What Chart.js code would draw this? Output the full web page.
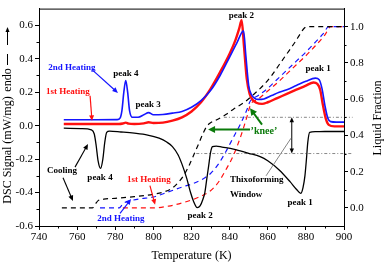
<!DOCTYPE html>
<html>
<head>
<meta charset="utf-8">
<script src="https://cdn.jsdelivr.net/npm/chart.js@4.4.0/dist/chart.umd.min.js"></script>
<style>
  html, body { margin: 0; padding: 0; background: #fff; }
  #wrap { width: 385px; height: 264px; }
</style>
</head>
<body>
<div id="wrap"><canvas id="dsc" width="385" height="264"></canvas></div>
<script>
// tick labels
var tempTicks = [740, 760, 780, 800, 820, 840, 860, 880, 900];
var dscTicks = [-0.6, -0.4, -0.2, 0.0, 0.2, 0.4, 0.6];
var lfTicks = [0.0, 0.2, 0.4, 0.6, 0.8, 1.0];

// DSC signal, 1st heating (red)
var heat1T = [753, 770, 782, 784, 785.5, 787, 790, 795, 797.5, 800, 805, 810, 815, 820, 825, 830, 835, 840, 843, 845,
              846.3, 847.5, 849, 850.5, 852, 854, 857, 860, 865, 870, 875, 880, 884, 886, 887.5, 889, 890.5, 892, 895, 900];
var heat1Dsc = [0.010, 0.010, 0.010, 0.013, 0.018, 0.012, 0.010, 0.014, 0.020, 0.016, 0.018, 0.030, 0.050, 0.085, 0.14, 0.22, 0.32, 0.43, 0.51, 0.58,
                0.63, 0.48, 0.28, 0.19, 0.155, 0.137, 0.13, 0.14, 0.165, 0.19, 0.215, 0.24, 0.258, 0.25, 0.215, 0.12, 0.04, 0.005, -0.004, -0.004];

// DSC signal, 2nd heating (blue)
var heat2T = [753, 770, 781, 782.5, 783.5, 784.5, 785.5, 786.5, 787.5, 789, 792, 795, 797.5, 800, 805, 810, 815, 820, 825, 830,
              835, 840, 844, 847.3, 848.5, 850, 851.5, 853, 855, 858, 862, 866, 870, 875, 880, 885, 887, 888.5, 890, 891.5, 893, 896, 900];
var heat2Dsc = [0.035, 0.035, 0.036, 0.045, 0.09, 0.20, 0.27, 0.20, 0.09, 0.05, 0.05, 0.065, 0.078, 0.065, 0.067, 0.075, 0.085, 0.11, 0.15, 0.21,
                0.30, 0.41, 0.50, 0.567, 0.42, 0.24, 0.185, 0.165, 0.157, 0.16, 0.18, 0.2, 0.215, 0.24, 0.265, 0.284, 0.275, 0.22, 0.12, 0.045, 0.024, 0.021, 0.021];

// DSC signal, cooling (black)
var coolT = [753, 762, 767.5, 769, 770, 771, 772.3, 773.5, 774.5, 775.5, 777, 783, 790, 797, 803, 807, 810, 813, 815, 817.5,
             819.5, 821, 823, 824.5, 826, 827, 828, 829, 830, 831, 833, 836, 842, 850, 856, 860, 866, 871.7, 875, 877.3,
             878.5, 879.5, 880.3, 881, 882, 885, 890, 900];
var coolDsc = [-0.015, -0.018, -0.025, -0.05, -0.12, -0.21, -0.255, -0.20, -0.10, -0.04, -0.033, -0.038, -0.045, -0.056, -0.075, -0.098, -0.125, -0.175, -0.23, -0.315,
               -0.40, -0.45, -0.49, -0.48, -0.44, -0.40, -0.32, -0.24, -0.16, -0.125, -0.122, -0.128, -0.14, -0.165, -0.185, -0.21, -0.265, -0.335, -0.38, -0.405,
               -0.37, -0.30, -0.20, -0.10, -0.04, -0.036, -0.035, -0.035];

// liquid fraction curves (right axis)
var coolLfT = [752, 768, 769.5, 771, 774, 780, 790, 800, 806, 810, 813, 816, 819, 821.5, 824, 826, 828, 830, 833, 838,
               842, 848, 853, 858, 862, 866, 870, 874, 877, 879, 880.5, 900];
var coolLf = [0, 0, 0.02, 0.04, 0.048, 0.053, 0.062, 0.075, 0.09, 0.11, 0.14, 0.18, 0.24, 0.30, 0.36, 0.41, 0.45, 0.47, 0.485, 0.515,
              0.545, 0.585, 0.63, 0.68, 0.73, 0.79, 0.85, 0.91, 0.96, 0.99, 1.0, 1.0];
var heat1LfT = [784, 800, 808, 816, 824, 830, 834, 838, 842, 846, 849, 851, 855, 860, 865, 870, 875, 880, 885, 890, 893, 900];
var heat1Lf = [0, 0, 0.01, 0.03, 0.06, 0.095, 0.14, 0.21, 0.29, 0.40, 0.50, 0.57, 0.60, 0.645, 0.69, 0.74, 0.79, 0.84, 0.895, 0.955, 1.0, 1.0];
var heat2LfT = [772, 782, 783.5, 785, 788, 793, 800, 807, 815, 821, 826, 830, 834, 838, 842, 846, 849, 850.7, 855, 860,
                865, 870, 875, 880, 885, 889, 892, 900];
var heat2Lf = [0, 0, 0.015, 0.03, 0.04, 0.05, 0.06, 0.085, 0.115, 0.135, 0.16, 0.19, 0.24, 0.31, 0.39, 0.47, 0.54, 0.587, 0.62, 0.66,
               0.71, 0.76, 0.81, 0.86, 0.915, 0.96, 1.0, 1.0];

// thixoforming window (liquid fraction limits)
var windowLf = [0.3, 0.5];
var windowStartT = [822.5, 837];
var windowEndT = 904.5;
var windowArrowT = 872.6;

// text labels, in data units of the left axis
var labels = [
  {t: 'peak 4', x: 785.6, y: 0.312, c: '#000'},
  {t: 'peak 3', x: 797.2, y: 0.127, c: '#000'},
  {t: 'peak 2', x: 846.2, y: 0.658, c: '#000'},
  {t: 'peak 1', x: 886.4, y: 0.34, c: '#000'},
  {t: '2nd Heating', x: 757.3, y: 0.346, c: '#1515ff'},
  {t: '1st Heating', x: 755.2, y: 0.202, c: '#ff1010'},
  {t: 'Cooling', x: 752.1, y: -0.271, c: '#000'},
  {t: 'peak 4', x: 772, y: -0.312, c: '#000'},
  {t: '1st Heating', x: 797.7, y: -0.323, c: '#ff1010'},
  {t: '2nd Heating', x: 783, y: -0.554, c: '#1515ff'},
  {t: 'peak 2', x: 824.5, y: -0.537, c: '#000'},
  {t: 'peak 1', x: 877, y: -0.46, c: '#000'},
  {t: '\u2019knee\u2019', x: 858, y: -0.035, c: '#0a7a0a', size: 10},
  {t: 'Thixoforming', x: 840.2, y: -0.323, c: '#000', align: 'left'},
  {t: 'Window', x: 840.2, y: -0.41, c: '#000', align: 'left'}
];

// arrows [fromT, fromDsc, toT, toDsc]
var arrows = [
  {p: [767.8, 0.335, 781.4, 0.196], c: '#1515ff', w: 1.2},
  {p: [766.8, 0.179, 767.8, 0.029], c: '#ff1010', w: 1.2},
  {p: [752.6, -0.312, 757.8, -0.45], c: '#000', w: 1.1},
  {p: [758.9, -0.248, 765.7, -0.11], c: '#000', w: 1.1},
  {p: [798.2, -0.358, 800.9, -0.473], c: '#ff1010', w: 1.2},
  {p: [782.5, -0.525, 788.3, -0.439], c: '#1515ff', w: 1.2},
  {p: [850.7, -0.023, 828.7, -0.023], c: '#0a7a0a', w: 2},
  {p: [857, 0.006, 850.7, 0.104], c: '#0a7a0a', w: 2}
];

function pts(xs, ys) {
  return xs.map(function (v, i) { return {x: v, y: ys[i]}; });
}

function arrowHead(ctx, x0, y0, x1, y1, len, half) {
  var a = Math.atan2(y1 - y0, x1 - x0);
  var bx = x1 - len * Math.cos(a), by = y1 - len * Math.sin(a);
  ctx.beginPath();
  ctx.moveTo(x1, y1);
  ctx.lineTo(bx + half * Math.sin(a), by - half * Math.cos(a));
  ctx.lineTo(bx - half * Math.sin(a), by + half * Math.cos(a));
  ctx.closePath();
  ctx.fill();
}

var serif = '"Liberation Serif", "Times New Roman", serif';
Chart.defaults.font.family = serif;
Chart.defaults.color = '#000';

var overlay = {
  id: 'overlay',
  afterDatasetsDraw: function (chart) {
    var ctx = chart.ctx, a = chart.chartArea;
    var sx = chart.scales.x, sy = chart.scales.y, sr = chart.scales.y1;
    ctx.save();

    // frame top
    ctx.strokeStyle = '#000';
    ctx.lineWidth = 1;
    ctx.beginPath();
    ctx.moveTo(a.left, a.top + 0.5);
    ctx.lineTo(a.right, a.top + 0.5);
    ctx.stroke();

    // minor ticks
    ctx.beginPath();
    for (var t = 750; t < 900; t += 20) {
      var px = Math.round(sx.getPixelForValue(t)) + 0.5;
      ctx.moveTo(px, a.bottom); ctx.lineTo(px, a.bottom + 2.5);
    }
    [-0.5, -0.3, -0.1, 0.1, 0.3, 0.5].forEach(function (v) {
      var py = Math.round(sy.getPixelForValue(v)) + 0.5;
      ctx.moveTo(a.left, py); ctx.lineTo(a.left - 2.5, py);
    });
    [0.1, 0.3, 0.5, 0.7, 0.9].forEach(function (v) {
      var py = Math.round(sr.getPixelForValue(v)) + 0.5;
      ctx.moveTo(a.right, py); ctx.lineTo(a.right + 2.5, py);
    });
    ctx.stroke();

    // thixoforming window double arrow + leader line
    var wx = sx.getPixelForValue(windowArrowT);
    var wTop = sr.getPixelForValue(windowLf[1]), wBot = sr.getPixelForValue(windowLf[0]);
    ctx.strokeStyle = '#000'; ctx.fillStyle = '#000'; ctx.lineWidth = 1;
    ctx.beginPath(); ctx.moveTo(wx, wTop + 4); ctx.lineTo(wx, wBot - 4); ctx.stroke();
    arrowHead(ctx, wx, wBot, wx, wTop, 5, 2.2);
    arrowHead(ctx, wx, wTop, wx, wBot, 5, 2.2);
    ctx.strokeStyle = '#666'; ctx.lineWidth = 0.8;
    ctx.beginPath();
    ctx.moveTo(sx.getPixelForValue(859.1), sy.getPixelForValue(-0.3));
    ctx.lineTo(sx.getPixelForValue(872.2), sy.getPixelForValue(-0.075));
    ctx.stroke();

    // arrows
    arrows.forEach(function (ar) {
      var x0 = sx.getPixelForValue(ar.p[0]), y0 = sy.getPixelForValue(ar.p[1]);
      var x1 = sx.getPixelForValue(ar.p[2]), y1 = sy.getPixelForValue(ar.p[3]);
      var ang = Math.atan2(y1 - y0, x1 - x0);
      ctx.strokeStyle = ar.c; ctx.fillStyle = ar.c; ctx.lineWidth = ar.w;
      ctx.beginPath();
      ctx.moveTo(x0, y0);
      ctx.lineTo(x1 - 4 * Math.cos(ang), y1 - 4 * Math.sin(ang));
      ctx.stroke();
      arrowHead(ctx, x0, y0, x1, y1, ar.w > 1.5 ? 7 : 5.5, ar.w > 1.5 ? 3.5 : 2.5);
    });

    // labels
    ctx.textBaseline = 'middle';
    labels.forEach(function (l) {
      ctx.font = 'bold ' + (l.size || 9) + 'px ' + serif;
      ctx.fillStyle = l.c;
      ctx.textAlign = l.align || 'center';
      ctx.fillText(l.t, sx.getPixelForValue(l.x), sy.getPixelForValue(l.y));
    });

    // axis titles
    ctx.fillStyle = '#000';
    ctx.font = '12px ' + serif;
    ctx.textAlign = 'center';
    ctx.fillText('Temperature (K)', (a.left + a.right) / 2, 256);

    ctx.save();
    ctx.translate(8, 150);
    ctx.rotate(-Math.PI / 2);
    ctx.fillText('DSC Signal (mW/mg)', 0, 0);
    ctx.restore();

    ctx.save();
    ctx.translate(8, 80);
    ctx.rotate(-Math.PI / 2);
    ctx.fillText('endo', 0, 0);
    ctx.restore();
    ctx.strokeStyle = '#000'; ctx.fillStyle = '#000'; ctx.lineWidth = 1;
    ctx.beginPath();
    ctx.moveTo(7.5, 65); ctx.lineTo(7.5, 54);
    ctx.moveTo(7.5, 45); ctx.lineTo(7.5, 31);
    ctx.stroke();
    arrowHead(ctx, 7.5, 45, 7.5, 27, 5, 2);

    ctx.save();
    ctx.translate(378, 118);
    ctx.rotate(-Math.PI / 2);
    ctx.fillText('Liquid Fraction', 0, 0);
    ctx.restore();

    ctx.restore();
  }
};

function axisCommon(extra) {
  var base = {
    grid: {drawOnChartArea: false, tickLength: 4, tickColor: '#000', tickWidth: 1},
    border: {color: '#000', width: 1},
    ticks: {color: '#000', font: {size: 11}, padding: 2, autoSkip: false, maxRotation: 0}
  };
  return Object.assign(base, extra);
}

var ctx = document.getElementById('dsc');
var myChart = new Chart(ctx, {
  type: 'line',
  data: {
    datasets: [
      {label: '2nd Heating', data: pts(heat2T, heat2Dsc), yAxisID: 'y', borderColor: '#1515ff', borderWidth: 1.6},
      {label: '1st Heating', data: pts(heat1T, heat1Dsc), yAxisID: 'y', borderColor: '#ff1010', borderWidth: 2.4},
      {label: 'Cooling', data: pts(coolT, coolDsc), yAxisID: 'y', borderColor: '#000', borderWidth: 1.3},
      {label: 'LF cooling', data: pts(coolLfT, coolLf), yAxisID: 'y1', borderColor: '#000', borderWidth: 1.2, borderDash: [5, 4]},
      {label: 'LF 2nd', data: pts(heat2LfT, heat2Lf), yAxisID: 'y1', borderColor: '#1515ff', borderWidth: 1.2, borderDash: [5, 4]},
      {label: 'LF 1st', data: pts(heat1LfT, heat1Lf), yAxisID: 'y1', borderColor: '#ff1010', borderWidth: 1.2, borderDash: [5, 4]},
      {label: 'fs 0.3', data: [{x: windowStartT[0], y: windowLf[0]}, {x: windowEndT, y: windowLf[0]}], yAxisID: 'y1',
       borderColor: '#888', borderWidth: 1, borderDash: [3, 2, 1, 2], clip: false},
      {label: 'fs 0.5', data: [{x: windowStartT[1], y: windowLf[1]}, {x: windowEndT, y: windowLf[1]}], yAxisID: 'y1',
       borderColor: '#888', borderWidth: 1, borderDash: [3, 2, 1, 2], clip: false}
    ]
  },
  options: {
    responsive: false,
    devicePixelRatio: 1,
    animation: false,
    layout: {padding: {top: 1, left: 0, right: 0, bottom: 0}},
    elements: {
      point: {radius: 0},
      line: {cubicInterpolationMode: 'monotone', fill: false}
    },
    plugins: {legend: {display: false}, tooltip: {enabled: false}},
    scales: {
      x: axisCommon({
        type: 'linear', min: 740, max: 900,
        afterBuildTicks: function (s) { s.ticks = tempTicks.map(function (v) { return {value: v}; }); },
        afterFit: function (s) { s.height = 38; },
        ticks: {color: '#000', font: {size: 11}, padding: 1, autoSkip: false, maxRotation: 0}
      }),
      y: axisCommon({
        position: 'left', min: -0.6, max: 0.7,
        afterBuildTicks: function (s) { s.ticks = dscTicks.map(function (v) { return {value: v}; }); },
        afterFit: function (s) { s.width = 39; },
        ticks: {color: '#000', font: {size: 11}, padding: 2, callback: function (v) { return v.toFixed(1); }}
      }),
      y1: axisCommon({
        position: 'right', min: -0.1, max: 1.1,
        afterBuildTicks: function (s) { s.ticks = lfTicks.map(function (v) { return {value: v}; }); },
        afterFit: function (s) { s.width = 41; },
        ticks: {color: '#000', font: {size: 11}, padding: 2, callback: function (v) { return v.toFixed(1); }}
      })
    }
  },
  plugins: [overlay]
});
</script>
</body>
</html>
